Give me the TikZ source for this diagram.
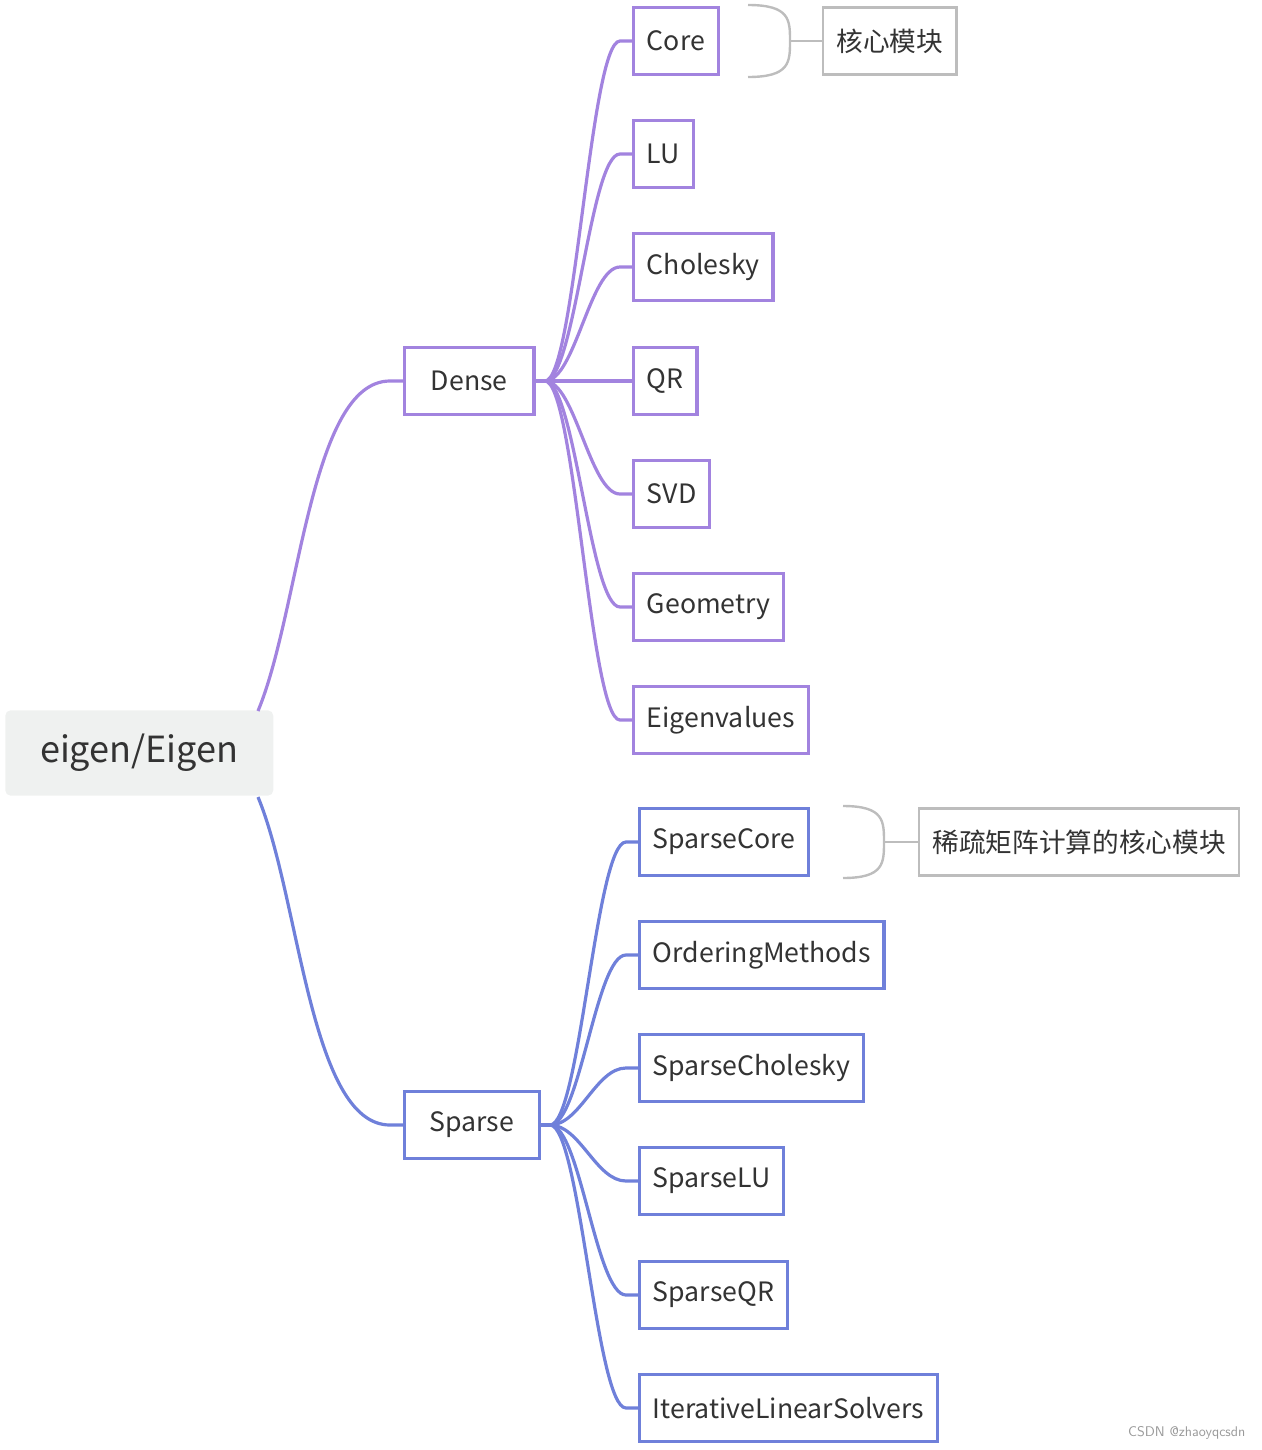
\documentclass[tikz,border=0pt]{standalone}
\usepackage{fontspec}
\setmainfont{Noto Sans CJK SC}
\definecolor{dpur}{HTML}{A283DF}
\definecolor{spbl}{HTML}{6F80DA}
\definecolor{txt}{HTML}{333333}
\definecolor{notegr}{HTML}{BDBDBD}
\definecolor{rootbg}{HTML}{EFF1F0}
\begin{document}
\begin{tikzpicture}[x=0.75pt,y=-0.75pt,
  box/.style={draw,line width=2.4pt,fill=white,text=txt,font=\fontsize{20}{24}\selectfont,
    minimum height=50pt,inner xsep=10pt,anchor=west},
  dbox/.style={box,draw=dpur},
  sbox/.style={box,draw=spbl},
  nbox/.style={box,draw=notegr,line width=1.8pt},
  dl/.style={dpur,line width=2.4pt},
  sl/.style={spbl,line width=2.4pt},
  nl/.style={notegr,line width=1.8pt}]
\useasboundingbox (0,0) rectangle (1262,1450);
\node[fill=rootbg,rounded corners=4pt,text=txt,font=\fontsize{27}{32}\selectfont,
  minimum width=201pt,minimum height=64pt,anchor=west] (root) at (5,753) {eigen/Eigen};
\node[dbox,minimum width=97pt] (dense) at (403,381) {Dense};
\node[sbox,minimum width=101pt] (sparse) at (403,1125) {Sparse};
\coordinate (rt) at (258,711);
\coordinate (rb) at (258,797);
\draw[dl] (rt) .. controls (300,610) and (310,381) .. (390,381) -- (dense.west);
\draw[sl] (rb) .. controls (300,898) and (310,1125) .. (390,1125) -- (sparse.west);
% dense children
\foreach \n/\t/\y in {core/Core/41,lu/LU/154,chol/Cholesky/267,qr/QR/381,svd/SVD/494,geo/Geometry/607,eig/Eigenvalues/720}{
  \node[dbox] (\n) at (632,\y) {\t};
  \draw[dl] (dense.east) -- (545,381) .. controls (575,381) and (590,\y) .. (620,\y) -- (\n.west);
}
\foreach \n/\t/\y in {score/SparseCore/842,ord/OrderingMethods/955,schol/SparseCholesky/1068,slu/SparseLU/1181,sqr/SparseQR/1295,ils/IterativeLinearSolvers/1408}{
  \node[sbox] (\n) at (638,\y) {\t};
  \draw[sl] (sparse.east) -- (550,1125) .. controls (580,1125) and (596,\y) .. (626,\y) -- (\n.west);
}
% notes
\node[nbox] (n1) at (822,41) {核心模块};
\coordinate (b1a) at (748,5); \coordinate (b1m) at (790,41); \coordinate (b1b) at (748,77);
\draw[nl] (b1a) .. controls (790,5) and (790,20) .. (b1m) .. controls (790,62) and (790,77) .. (b1b);
\draw[nl] (b1m) -- (n1.west);
\node[nbox] (n2) at (918,842) {稀疏矩阵计算的核心模块};
\coordinate (b2a) at (843,806); \coordinate (b2m) at (884,842); \coordinate (b2b) at (843,878);
\draw[nl] (b2a) .. controls (884,806) and (884,821) .. (b2m) .. controls (884,863) and (884,878) .. (b2b);
\draw[nl] (b2m) -- (n2.west);
\node[text=gray!80,font=\fontsize{10.5}{12}\selectfont\sffamily,anchor=east] (wm) at (1250,1433) {CSDN @zhaoyqcsdn};
\end{tikzpicture}
\end{document}
